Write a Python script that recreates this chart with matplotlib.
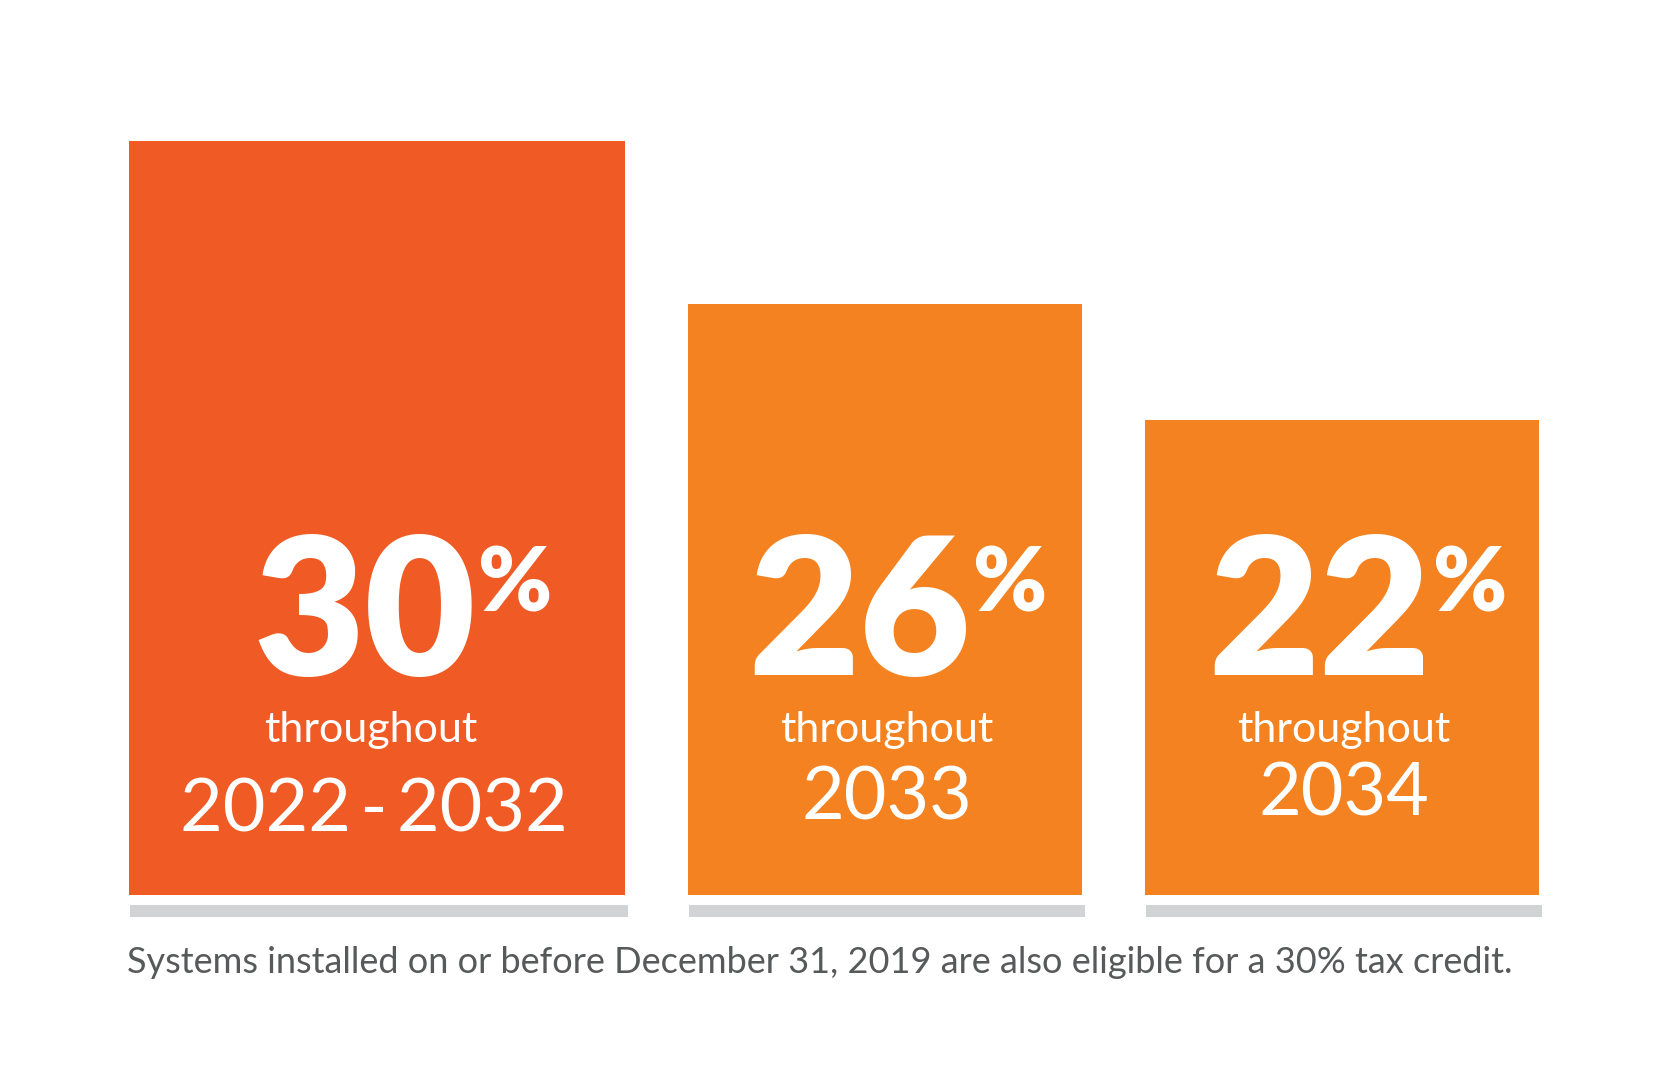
import numpy as np
import matplotlib
matplotlib.use("Agg")
import matplotlib.pyplot as plt

# chart values
rates = [30, 26, 22]
periods = ["2022\u2009-\u20092032", "2033", "2034"]
# visual bar heights (first bar = 30)
bar_heights = [30, 23.5, 18.9]
bar_colors = ["#F05A24", "#F58220", "#F58220"]
note = "Systems installed on or before December 31, 2019 are also eligible for a 30% tax credit."

W, H = 1662, 1070
fig = plt.figure(figsize=(W / 100, H / 100), dpi=100)
ax = fig.add_axes([0, 0, 1, 1])

# layout in pixels
widths = [496, 394, 394]
gap = 63
left0 = 129
base_px = 895           # pixel row of bar bottoms, from top
px_per_unit = 754 / 30  # first bar spans 754 px

lefts = left0 + np.concatenate([[0], np.cumsum(np.array(widths[:-1]) + gap)])
centers = lefts + np.array(widths) / 2

ax.set_xlim(0, W)
ax.set_ylim(-(H - base_px) / px_per_unit, base_px / px_per_unit)
ax.axis("off")

ax.bar(lefts, bar_heights, width=widths, align="edge", color=bar_colors, linewidth=0)
# grey base strips under each bar
strip_h = 12 / px_per_unit
ax.bar(lefts + 1, [strip_h] * 3, bottom=-22 / px_per_unit, width=np.array(widths) + 2,
       align="edge", color="#D1D3D4", linewidth=0)


def ftxt(x, y, s, **kw):
    fig.text(x / W, 1 - y / H, s, **kw)


num_font = dict(family="Lato", weight="heavy", color="white")
light_font = dict(family=["Lato", "DejaVu Sans"], weight="normal", color="white")

num_right = [476, 971, 1431]
year_y = [832, 819, 816]
for i in range(3):
    c = centers[i]
    ftxt(num_right[i], 675, str(rates[i]), fontsize=138, ha="right", va="baseline", **num_font)
    ftxt(num_right[i] + 2, 612, "%", fontsize=64, ha="left", va="baseline", **num_font)
    ftxt(c - 6 if i == 0 else c + 2, 742, "throughout", fontsize=31, ha="center", va="baseline", **light_font)
    ftxt(c - 3 if i == 0 else c + 2, year_y[i], periods[i], fontsize=53, ha="center", va="baseline", **light_font)

ftxt(127, 973, note, fontsize=26, ha="left", va="baseline", family="Lato", weight="normal", color="#58595B")

fig.savefig("out.png", dpi=100, facecolor="white")
